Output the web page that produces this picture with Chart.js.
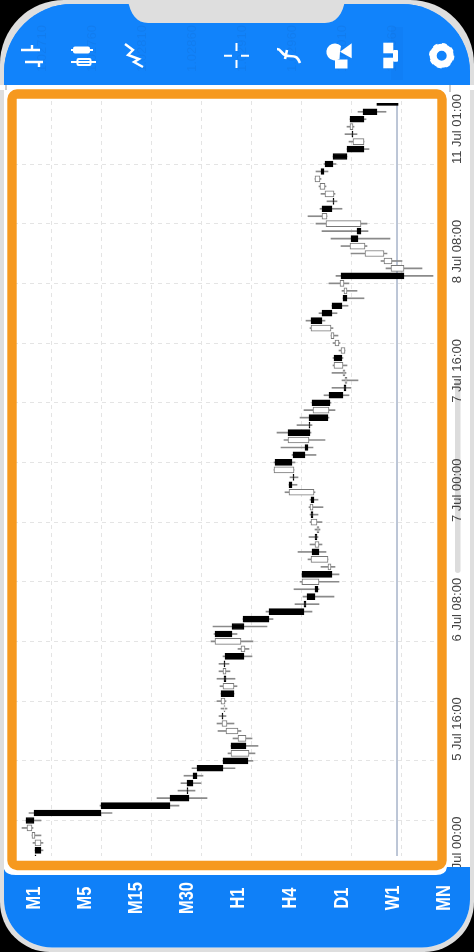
<!DOCTYPE html>
<html>
<head>
<meta charset="utf-8">
<title>Candles</title>
<script src="https://cdn.jsdelivr.net/npm/chart.js@4"></script>
<style>
  html, body { margin: 0; padding: 0; background: #000; width: 474px; height: 952px; overflow: hidden; }
  .layer { position: absolute; left: 0; top: 0; width: 474px; height: 952px; }
  #under { z-index: 1; }
  #chart { z-index: 2; }
  #over { z-index: 3; }
</style>
</head>
<body>

<svg id="under" class="layer" viewBox="0 0 474 952">
  <path d="M64 0 H410 A64 64 0 0 1 474 64 V902 A50 50 0 0 1 424 952 H50 A50 50 0 0 1 0 902 V64 A64 64 0 0 1 64 0 Z" fill="#dedede"/>
  <path d="M72 4 H402 A68 68 0 0 1 470 72 V899 A48 48 0 0 1 422 947.5 H52 A48 48 0 0 1 4 899 V72 A68 68 0 0 1 72 4 Z" fill="#fff"/>
  <path d="M4 85 V72 A68 68 0 0 1 72 4 H402 A68 68 0 0 1 470 72 V85 Z" fill="#1283fb"/>
  <rect x="455" y="379" width="5.5" height="194" rx="2.7" fill="#dcdcdc"/>
</svg>

<canvas id="chart" class="layer" width="474" height="952"></canvas>

<svg id="over" class="layer" viewBox="0 0 474 952">
  <rect x="0" y="85" width="474" height="5" fill="#fff"/>
  <rect x="4" y="85" width="4" height="780" fill="#fff"/>
  <rect x="446" y="85" width="4" height="780" fill="#fff"/>
  <line x1="6" y1="85" x2="6" y2="90" stroke="#999"/>
  <line x1="450" y1="85" x2="450" y2="92" stroke="#999"/>

  <path d="M4 85 V72 A68 68 0 0 1 72 4 H402 A68 68 0 0 1 470 72 V85 Z" fill="#1283fb" fill-opacity="0.95"/>
  <rect x="391" y="27" width="12" height="53" fill="#0a5fc0" fill-opacity="0.08"/>
  <path d="M128 0 H345 C343 14 336 23 325 23 H148 C137 23 130 14 128 0 Z" fill="#dedede"/>

  <!-- toolbar icons -->
  <g fill="none" stroke="#fff" stroke-width="2.4">
    <path d="M21 50 H40 M32 45 V50 M25 62 H43 M39 62 V67"/>
    <path d="M71 50 H93 M71 62 H96" stroke-width="2"/>
    <rect x="77.5" y="59" width="13" height="6" rx="1" stroke-width="2"/>
    <polyline points="125,44 133,50 128,55 139,59 134,62 143,67"/>
    <path d="M224 55.7 H232 M241 55.7 H249 M236.5 43 V51 M236.5 60 V68" stroke-width="2"/>
    <path d="M277 49 C282 49 281 56 289 56 C297 56 298 58 300 63 M287 50 L285 59" stroke-width="2.6"/>
    <circle cx="441.7" cy="55.7" r="8.5" stroke-width="7"/>
    <circle cx="441.7" cy="55.7" r="11.2" stroke-width="3" stroke-dasharray="4.4 4.4"/>
  </g>
  <g fill="#fff">
    <rect x="73" y="46.5" width="17" height="7" rx="2"/>
    <path d="M340 51.7 L341 46 A8.5 8.5 0 1 0 339.5 59 Z"/>
    <path d="M351.7 43.3 V58.3 L340 51.7 Z"/>
    <rect x="335" y="59.5" width="12.5" height="9"/>
    <rect x="383.3" y="42.7" width="10" height="10.6"/>
    <rect x="383.3" y="57.7" width="10" height="10.6"/>
    <rect x="393" y="50" width="5" height="11.7" rx="1"/>
  </g>

  <path d="M4 869 Q6 875 16 875 H436 Q446 875 447 867 H470 V899 A48 48 0 0 1 422 947.5 H52 A48 48 0 0 1 4 899 Z" fill="#0f80f8"/>
  <rect x="12" y="94" width="430" height="771.5" rx="5" fill="none" stroke="#f6991f" stroke-width="9.4"/>
  <g id="timeframes"></g>
</svg>

<script>
// prices are in points (price x 100000), row 0 is the newest candle, at the top
const open = [
  103057,103036,103023,103009,103012,103012,103023,103006,102992,102983,
  102974,102979,102984,102993,102991,102981,102985,103020,103017,103009,
  103024,103043,103050,103063,102999,103003,103006,103001,102991,102981,
  102970,102990,102994,103000,103001,102993,103002,103004,103005,103002,
  102989,102972,102987,102969,102969,102947,102967,102964,102951,102933,
  102953,102951,102948,102973,102969,102972,102970,102976,102976,102974,
  102978,102970,102987,102991,102961,102977,102974,102965,102963,102928,
  102903,102891,102874,102900,102903,102884,102882,102885,102882,102893,
  102880,102883,102882,102881,102885,102897,102905,102890,102907,102882,
  102856,102852,102847,102848,102829,102760,102693,102686,102691,102694,
  102700,102695
];
const close = [
  103036,103022,103009,103012,103011,103023,103006,102992,102984,102980,
  102979,102984,102993,102992,102981,102986,103020,103016,103010,103024,
  103043,103051,103063,103000,103003,103006,103002,102991,102981,102970,
  102990,102993,102998,103004,102993,103002,103004,103006,103003,102988,
  102971,102988,102968,102968,102947,102968,102964,102952,102934,102953,
  102952,102948,102973,102970,102972,102970,102976,102978,102974,102978,
  102971,102987,102990,102961,102978,102974,102966,102963,102928,102902,
  102891,102874,102900,102904,102884,102883,102885,102883,102893,102880,
  102884,102884,102881,102886,102897,102905,102890,102908,102882,102856,
  102852,102846,102846,102829,102760,102693,102685,102691,102694,102700,
  102694,102694
];
const high = [
  103057,103045,103025,103013,103016,103023,103028,103006,102995,102987,
  102980,102985,102994,102996,103001,102986,103026,103027,103049,103026,
  103046,103061,103081,103092,103008,103016,103023,103007,102996,102984,
  102992,102997,102999,103004,103002,103006,103005,103017,103010,103008,
  102990,102994,102988,102971,102970,102984,102972,102975,102954,102953,
  102957,102956,102974,102977,102982,102977,102981,102979,102977,102981,
  102985,102987,102994,102998,102998,102978,102993,102978,102971,102932,
  102926,102896,102912,102908,102911,102888,102889,102894,102896,102893,
  102885,102886,102885,102893,102900,102911,102917,102914,102912,102894,
  102862,102860,102854,102866,102838,102771,102700,102692,102700,102702,
  102702,102695
];
const low = [
  103036,103017,103009,103006,103004,103008,103006,102992,102983,102975,
  102974,102978,102980,102986,102979,102967,102975,102981,102990,103000,
  103010,103040,103045,102995,102988,103001,103002,102991,102978,102965,
  102969,102990,102992,102998,102992,102992,102991,103001,102991,102983,
  102971,102963,102959,102956,102936,102943,102940,102951,102933,102933,
  102949,102948,102944,102969,102968,102969,102969,102974,102968,102969,
  102957,102967,102980,102961,102959,102953,102962,102954,102925,102902,
  102872,102873,102870,102897,102882,102878,102878,102876,102879,102880,
  102876,102880,102878,102876,102877,102892,102890,102887,102882,102851,
  102843,102840,102837,102816,102759,102688,102685,102681,102691,102692,
  102694,102694
];
const lastPrice = 103056;
const priceTicks = [102710,102760,102810,102860,102910,102960,103010,103060];
const timeRows = [8,16,24,32,40,48,56,64,72,80,88,96,104];
const timeLabels = ['11 Jul 01:00','','8 Jul 08:00','','7 Jul 16:00','','7 Jul 00:00','','6 Jul 08:00','','5 Jul 16:00','','5 Jul 00:00'];
const timeframes = ['M1','M5','M15','M30','H1','H4','D1','W1','MN'];
const timeframeX = [33,84,135,186,237,289,341,392,443];

const rows = open.map((v, i) => i);
const isDown = i => open[i] > close[i];

const svgNs = 'http://www.w3.org/2000/svg';
timeframes.forEach((name, i) => {
  const t = document.createElementNS(svgNs, 'text');
  t.textContent = name;
  t.setAttribute('transform', 'translate(' + timeframeX[i] + ',898) rotate(-90) scale(0.82,1)');
  t.setAttribute('text-anchor', 'middle');
  t.setAttribute('dominant-baseline', 'central');
  t.setAttribute('font-family', 'Liberation Sans');
  t.setAttribute('font-weight', 'bold');
  t.setAttribute('font-size', '20');
  t.setAttribute('fill', '#fff');
  document.getElementById('timeframes').appendChild(t);
});

const bodyRows = rows.slice(1);

new Chart(document.getElementById('chart'), {
  data: {
    datasets: [
      {
        type: 'line', label: 'Last', order: 4,
        data: [{ x: lastPrice, y: 0 }, { x: lastPrice, y: 100.76 }],
        borderColor: '#b3bed1', borderWidth: 1, pointRadius: 0
      },
      {
        type: 'bar', label: 'High-Low', order: 3,
        data: bodyRows.map(i => ({ x: [low[i], high[i]], y: i })),
        backgroundColor: '#8a8a8a', borderWidth: 0,
        barThickness: 1, grouped: false
      },
      {
        type: 'bar', label: 'Open-Close', order: 1,
        data: bodyRows.map(i => ({ x: [open[i], close[i]], y: i })),
        backgroundColor: bodyRows.map(i => isDown(i) ? '#000' : '#fff'),
        borderColor: bodyRows.map(i => isDown(i) ? '#000' : '#777'),
        borderWidth: 1, borderSkipped: false,
        barThickness: 6, grouped: false
      },
      {
        // newest candle has only just opened, it is drawn much thinner
        type: 'bar', label: 'Current', order: 1,
        data: [{ x: [open[0], close[0]], y: 0 }],
        backgroundColor: '#000', borderWidth: 0,
        barThickness: 2, grouped: false
      }
    ]
  },
  options: {
    indexAxis: 'y',
    responsive: false,
    animation: false,
    devicePixelRatio: 1,
    layout: { padding: { left: 6, right: 0, top: 0, bottom: 96 } },
    plugins: { legend: { display: false }, tooltip: { enabled: false } },
    scales: {
      x: {
        type: 'linear',
        position: 'top',
        min: 102665,
        max: 103109,
        afterBuildTicks: s => { s.ticks = priceTicks.map(value => ({ value })); },
        afterFit: s => {
          s.height = 85;
          s.paddingLeft = s.paddingRight = s.paddingTop = s.paddingBottom = 0;
        },
        border: { display: false, dash: [4, 4] },
        grid: { color: '#e4e4e4', drawTicks: false },
        ticks: {
          autoSkip: false,
          minRotation: 90,
          maxRotation: 90,
          padding: 13,
          labelOffset: 7,
          color: '#111',
          font: { family: 'Liberation Sans', size: 13 },
          callback: v => (v / 100000).toFixed(5)
        }
      },
      y: {
        type: 'linear',
        position: 'right',
        reverse: true,
        offset: false,
        min: -2.59,
        max: 100.76,
        afterBuildTicks: s => { s.ticks = timeRows.map(value => ({ value })); },
        afterFit: s => {
          s.width = 24;
          s.paddingLeft = s.paddingRight = s.paddingTop = s.paddingBottom = 0;
        },
        border: { display: false, dash: [4, 4] },
        grid: { color: '#e4e4e4', drawTicks: false, offset: false },
        ticks: {
          autoSkip: false,
          minRotation: 90,
          maxRotation: 90,
          padding: 7,
          color: '#444',
          font: { family: 'Liberation Sans', size: 13 },
          callback: v => timeLabels[timeRows.indexOf(v)]
        }
      }
    }
  }
});
</script>
</body>
</html>
